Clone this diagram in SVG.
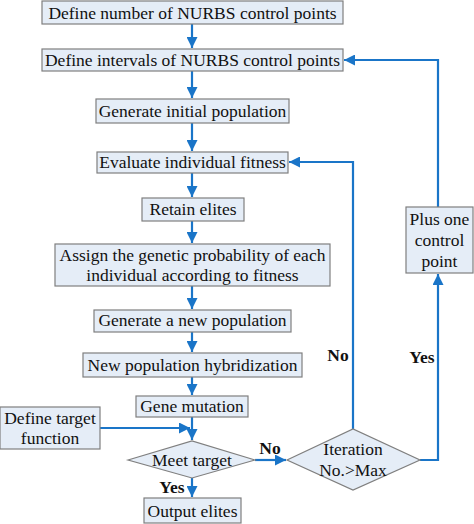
<svg xmlns="http://www.w3.org/2000/svg" width="474" height="524" viewBox="0 0 474 524">
<defs>
<style>
.box{fill:#e5edf7;stroke:#7f7f7f;stroke-width:1.2}
text{font-family:'Liberation Serif','Times New Roman','DejaVu Serif',serif;font-size:17.5px;fill:#111;text-anchor:middle}
.lb{font-weight:bold}
.c{fill:none;stroke:#1a75c8;stroke-width:2.2}
</style>
<marker id="ah" viewBox="0 0 10 10" refX="10" refY="5" markerWidth="5" markerHeight="5" orient="auto" markerUnits="strokeWidth">
<path d="M0,0 L10,5 L0,10 z" fill="#1a75c8"/>
</marker>
</defs>
<rect width="474" height="524" fill="#fff"/>
<g id="connectors">
<path class="c" d="M192,24 V48" marker-end="url(#ah)"/>
<path class="c" d="M192,71 V98" marker-end="url(#ah)"/>
<path class="c" d="M192,123 V151" marker-end="url(#ah)"/>
<path class="c" d="M192,173 V197" marker-end="url(#ah)"/>
<path class="c" d="M192,221 V243" marker-end="url(#ah)"/>
<path class="c" d="M192,286 V309" marker-end="url(#ah)"/>
<path class="c" d="M192,332 V352" marker-end="url(#ah)"/>
<path class="c" d="M192,377 V395" marker-end="url(#ah)"/>
<path class="c" d="M192,417 V440" marker-end="url(#ah)"/>
<path class="c" d="M100,428 H190" marker-end="url(#ah)"/>
<path class="c" d="M192,478 V497" marker-end="url(#ah)"/>
<path class="c" d="M255,460 H286" marker-end="url(#ah)"/>
<path class="c" d="M353,429 V162 H289" marker-end="url(#ah)"/>
<path class="c" d="M420,460 H438 V274" marker-end="url(#ah)"/>
<path class="c" d="M438,207 V60 H344" marker-end="url(#ah)"/>
</g>
<g id="n1"><rect class="box" x="42" y="1" width="301" height="23"/><text x="192.5" y="18.5">Define number of NURBS control points</text></g>
<g id="n2"><rect class="box" x="42" y="49" width="301" height="22"/><text x="192.5" y="66">Define intervals of NURBS control points</text></g>
<g id="n3"><rect class="box" x="96" y="99" width="193" height="24"/><text x="192.5" y="117">Generate initial population</text></g>
<g id="n4"><rect class="box" x="97" y="152" width="191" height="21"/><text x="192.5" y="168">Evaluate individual fitness</text></g>
<g id="n5"><rect class="box" x="142" y="198" width="102" height="23"/><text x="193" y="215">Retain elites</text></g>
<g id="n6"><rect class="box" x="55" y="244" width="275" height="42"/><text x="192.5" y="261">Assign the genetic probability of each</text><text x="192.5" y="281">individual according to fitness</text></g>
<g id="n7"><rect class="box" x="94" y="310" width="197" height="22"/><text x="192.5" y="326">Generate a new population</text></g>
<g id="n8"><rect class="box" x="83" y="353" width="219" height="24"/><text x="192.5" y="371">New population hybridization</text></g>
<g id="n9"><rect class="box" x="136" y="396" width="112" height="21"/><text x="192" y="412">Gene mutation</text></g>
<g id="n10"><rect class="box" x="0" y="407" width="100" height="42"/><text x="50" y="424">Define target</text><text x="50" y="444">function</text></g>
<g id="d1"><polygon class="box" points="128,460 192,441 255,460 192,478"/><text x="192" y="466">Meet target</text></g>
<g id="n11"><rect class="box" x="144" y="498" width="97" height="25"/><text x="192.5" y="517">Output elites</text></g>
<g id="d2"><polygon class="box" points="287,460 353,429 420,460 353,490"/><text x="353" y="455">Iteration</text><text x="353" y="476">No.&gt;Max</text></g>
<g id="n12"><rect class="box" x="406" y="207" width="67" height="66"/><text x="439.5" y="225">Plus one</text><text x="439.5" y="246">control</text><text x="439.5" y="267">point</text></g>
<g id="labels">
<text class="lb" x="338" y="361">No</text>
<text class="lb" x="422" y="363">Yes</text>
<text class="lb" x="270" y="454">No</text>
<text class="lb" x="172" y="493">Yes</text>
</g>
</svg>
